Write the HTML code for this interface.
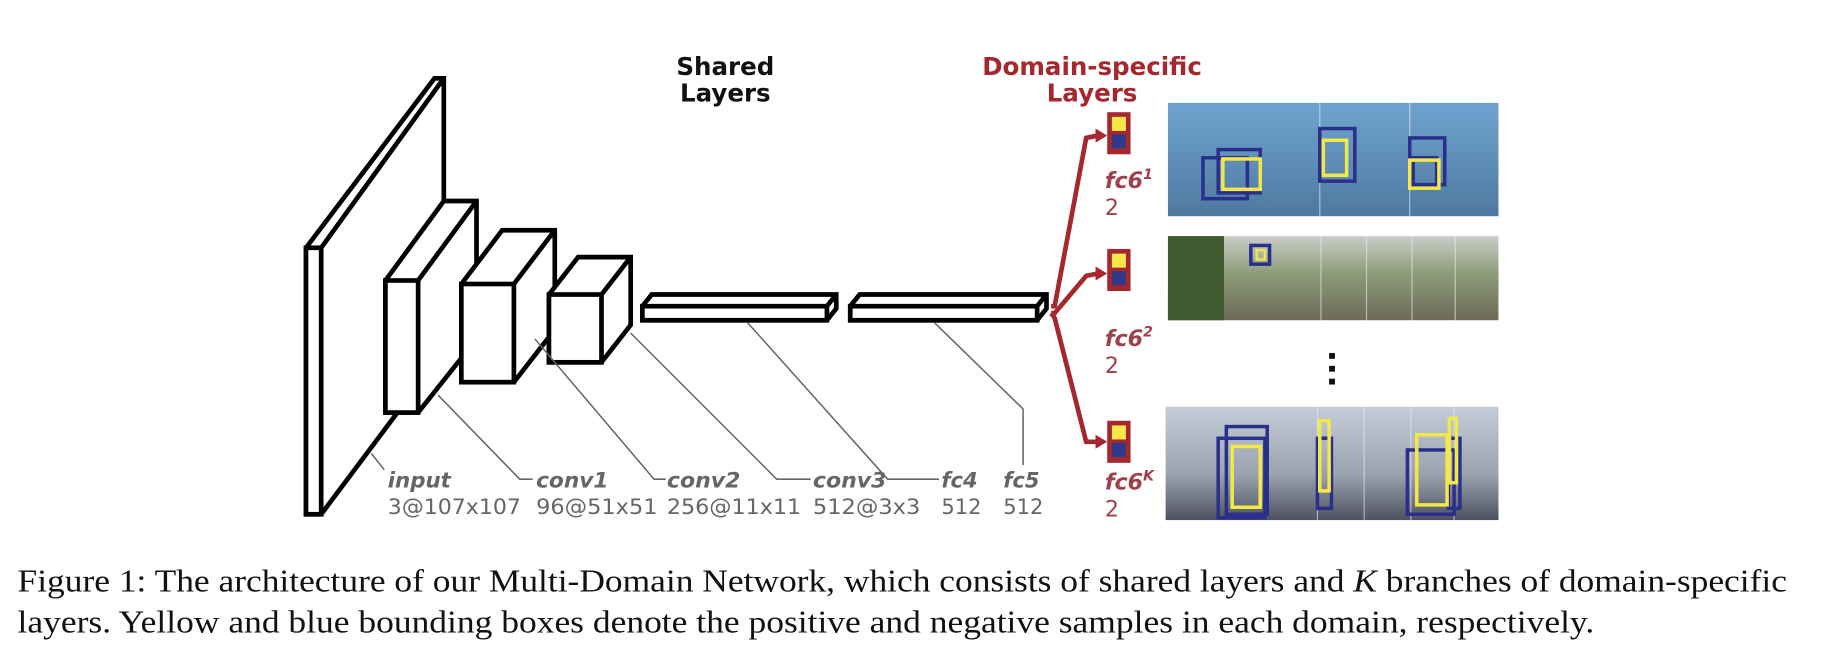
<!DOCTYPE html>
<html><head><meta charset="utf-8"><style>
html,body{margin:0;padding:0;background:#fff;}
svg{display:block}
</style></head><body>
<svg width="1822" height="658" viewBox="0 0 1560 563" preserveAspectRatio="none" xmlns="http://www.w3.org/2000/svg">
<defs>
<linearGradient id="g1" x1="0" y1="0" x2="0" y2="1"><stop offset="0" stop-color="#6fa3cf"/><stop offset="0.5" stop-color="#5f8fb8"/><stop offset="1" stop-color="#4f78a0"/></linearGradient>
<linearGradient id="g2" x1="0" y1="0" x2="0" y2="1"><stop offset="0" stop-color="#c9cdc9"/><stop offset="0.45" stop-color="#8d9c78"/><stop offset="1" stop-color="#6e6a58"/></linearGradient>
<linearGradient id="g3" x1="0" y1="0" x2="0" y2="1"><stop offset="0" stop-color="#c4ccd8"/><stop offset="0.6" stop-color="#9aa2ae"/><stop offset="1" stop-color="#4e5260"/></linearGradient>
</defs>
<g fill="#fff" stroke="#000" stroke-width="4" stroke-linejoin="miter">
<polygon points="262,212 372,67 380,67 380,300 275,440 262,440"/>
<line x1="275" y1="212" x2="380" y2="67"/>
<rect x="262" y="212" width="13" height="228"/>
<polygon points="330,240 380,172 408,172 408,290 358,353 330,353"/>
<line x1="358" y1="240" x2="408" y2="172"/>
<rect x="330" y="240" width="28" height="113"/>
<polygon points="395,243 430,197 475,197 475,282 440,327 395,327"/>
<line x1="440" y1="243" x2="475" y2="197"/>
<rect x="395" y="243" width="45" height="84"/>
<polygon points="470,252 495,220 540,220 540,278 515,310 470,310"/>
<line x1="515" y1="252" x2="540" y2="220"/>
<rect x="470" y="252" width="45" height="58"/>
<polygon points="550,262 558,252 716,252 716,264 708,274 550,274"/>
<line x1="708" y1="262" x2="716" y2="252"/>
<rect x="550" y="262" width="158" height="12"/>
<polygon points="728,262 736,252 896,252 896,264 888,274 728,274"/>
<line x1="888" y1="262" x2="896" y2="252"/>
<rect x="728" y="262" width="160" height="12"/>
</g>
<g fill="none" stroke="#666" stroke-width="1.3">
<polyline points="318,388 329,402"/>
<polyline points="375,338 445,410 456,410"/>
<polyline points="458,290 560,410 570,410"/>
<polyline points="540,285 665,410 694,410"/>
<polyline points="640,276 760,410 804,410"/>
<polyline points="800,276 876,350 876,398"/>
</g>
<g font-family="DejaVu Sans, Liberation Sans, sans-serif" fill="#666" font-size="18">
<g font-weight="bold" font-style="italic">
<text x="332" y="417" textLength="54" lengthAdjust="spacingAndGlyphs">input</text><text x="459" y="417" textLength="62" lengthAdjust="spacingAndGlyphs">conv1</text><text x="571" y="417" textLength="63" lengthAdjust="spacingAndGlyphs">conv2</text><text x="696" y="417" textLength="63" lengthAdjust="spacingAndGlyphs">conv3</text><text x="806" y="417">fc4</text><text x="859" y="417">fc5</text>
</g>
<text x="332" y="440" textLength="114" lengthAdjust="spacingAndGlyphs">3@107x107</text><text x="459" y="440" textLength="104" lengthAdjust="spacingAndGlyphs">96@51x51</text><text x="571" y="440" textLength="115" lengthAdjust="spacingAndGlyphs">256@11x11</text><text x="696" y="440" textLength="92" lengthAdjust="spacingAndGlyphs">512@3x3</text><text x="806" y="440">512</text><text x="859" y="440">512</text>
</g>
<g font-family="DejaVu Sans, Liberation Sans, sans-serif" font-weight="bold" font-size="21" text-anchor="middle">
<text x="621" y="64" fill="#111">Shared</text><text x="621" y="87" fill="#111">Layers</text>
<text x="935" y="64" fill="#a5282e">Domain-specific</text><text x="935" y="87" fill="#a5282e">Layers</text>
</g>
<g fill="none" stroke="#a5282e" stroke-width="4">
<path d="M900,262 L903,262 L930,118 L940,116"/>
<path d="M900,268 L903,268 L930,236 L940,234"/>
<path d="M900,268 L903,272 L930,378 L940,378"/>
</g>
<g fill="#a5282e">
<polygon points="948,116 938,110 938,122"/><polygon points="948,234 938,228 938,240"/><polygon points="948,378 938,372 938,384"/>
</g>
<g>
<rect x="948" y="96" width="20" height="36" fill="#a5282e"/><rect x="952" y="100" width="12" height="12" fill="#f6e74a"/><rect x="952" y="115" width="12" height="12" fill="#2f3b8a"/>
<rect x="948" y="213" width="20" height="36" fill="#a5282e"/><rect x="952" y="217" width="12" height="12" fill="#f6e74a"/><rect x="952" y="232" width="12" height="12" fill="#2f3b8a"/>
<rect x="948" y="360" width="20" height="36" fill="#a5282e"/><rect x="952" y="364" width="12" height="12" fill="#f6e74a"/><rect x="952" y="379" width="12" height="12" fill="#2f3b8a"/>
</g>
<g font-family="DejaVu Sans, Liberation Sans, sans-serif" fill="#a0404a" font-size="19">
<text x="946" y="161" font-weight="bold" font-style="italic">fc6<tspan font-size="12" dy="-8">1</tspan></text><text x="946" y="184">2</text>
<text x="946" y="296" font-weight="bold" font-style="italic">fc6<tspan font-size="12" dy="-8">2</tspan></text><text x="946" y="319">2</text>
<text x="946" y="419" font-weight="bold" font-style="italic">fc6<tspan font-size="12" dy="-8">K</tspan></text><text x="946" y="442">2</text>
</g>
<rect x="1000" y="88" width="283" height="97" fill="url(#g1)"/>
<g stroke="#e8eef4" stroke-width="1" opacity="0.6"><line x1="1130" y1="88" x2="1130" y2="185"/><line x1="1207" y1="88" x2="1207" y2="185"/></g>
<g fill="none" stroke="#2a2f8c" stroke-width="3">
<rect x="1030" y="135" width="38" height="35"/><rect x="1043" y="128" width="36" height="37"/><rect x="1130" y="110" width="30" height="45"/><rect x="1207" y="118" width="30" height="40"/><rect x="1210" y="135" width="20" height="25"/>
</g>
<g fill="none" stroke="#f2e84a" stroke-width="3"><rect x="1047" y="136" width="32" height="26"/><rect x="1133" y="120" width="20" height="30"/><rect x="1207" y="137" width="25" height="24"/></g>
<rect x="1000" y="202" width="283" height="72" fill="url(#g2)"/>
<rect x="1000" y="202" width="48" height="72" fill="#3f5a2e"/>
<g stroke="#e8eef4" stroke-width="1" opacity="0.6"><line x1="1131" y1="202" x2="1131" y2="274"/><line x1="1170" y1="202" x2="1170" y2="274"/><line x1="1209" y1="202" x2="1209" y2="274"/><line x1="1246" y1="202" x2="1246" y2="274"/></g>
<rect x="1071" y="210" width="16" height="16" fill="none" stroke="#2a2f8c" stroke-width="3"/><rect x="1076" y="214" width="7" height="8" fill="none" stroke="#f2e84a" stroke-width="2"/>
<g fill="#111"><rect x="1138" y="302" width="5" height="5"/><rect x="1138" y="313" width="5" height="5"/><rect x="1138" y="324" width="5" height="5"/></g>
<rect x="998" y="348" width="285" height="97" fill="url(#g3)"/>
<g stroke="#e8eef4" stroke-width="1" opacity="0.6"><line x1="1128" y1="348" x2="1128" y2="445"/><line x1="1168" y1="348" x2="1168" y2="445"/><line x1="1208" y1="348" x2="1208" y2="445"/><line x1="1245" y1="348" x2="1245" y2="445"/></g>
<g fill="none" stroke="#2a2f8c" stroke-width="3"><rect x="1043" y="375" width="40" height="68"/><rect x="1050" y="365" width="35" height="75"/><rect x="1128" y="375" width="12" height="60"/><rect x="1205" y="385" width="40" height="55"/><rect x="1240" y="375" width="10" height="60"/></g>
<g fill="none" stroke="#f2e84a" stroke-width="3"><rect x="1055" y="382" width="24" height="52"/><rect x="1130" y="360" width="8" height="60"/><rect x="1213" y="372" width="26" height="60"/><rect x="1241" y="358" width="6" height="55"/></g>
<g font-family="Liberation Serif, serif" font-size="27" fill="#111">
<text x="15" y="506" textLength="1515" lengthAdjust="spacingAndGlyphs">Figure 1: The architecture of our Multi-Domain Network, which consists of shared layers and <tspan font-style="italic">K</tspan> branches of domain-specific</text>
<text x="15" y="541" textLength="1350" lengthAdjust="spacingAndGlyphs">layers. Yellow and blue bounding boxes denote the positive and negative samples in each domain, respectively.</text>
</g>
</svg>
</body></html>
